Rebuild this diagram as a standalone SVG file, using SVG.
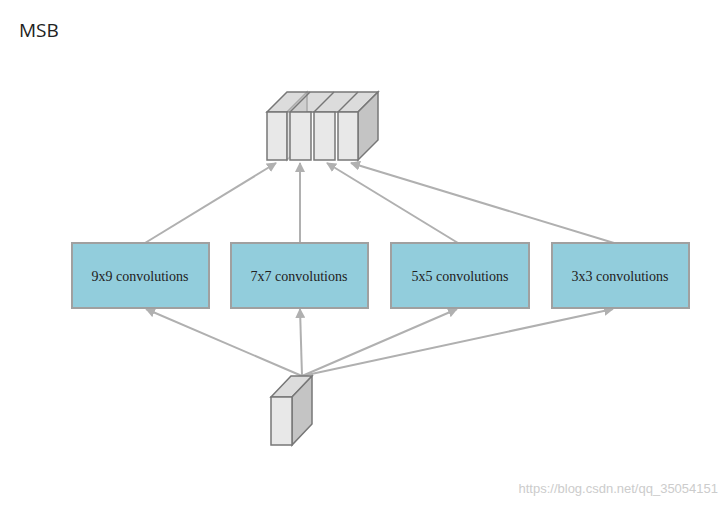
<svg xmlns="http://www.w3.org/2000/svg" width="725" height="506" viewBox="0 0 725 506">
<style>
.box{fill:#92cddc;stroke:#a0a0a0;stroke-width:2}
.lbl{font-family:"Liberation Serif",serif;font-size:14px;fill:#222;text-anchor:middle}
.f{fill:#e8e8e8;stroke:#777;stroke-width:1.5}
.t{fill:#dcdcdc;stroke:#777;stroke-width:1.5}
.s{fill:#c4c4c4;stroke:#777;stroke-width:1.5}
.c line{stroke:#b0b0b0;stroke-width:2;marker-end:url(#a)}
</style>
<defs><marker id="a" viewBox="0 0 10 10" refX="9" refY="5" markerWidth="5" markerHeight="5" orient="auto"><path d="M0,0L10,5L0,10z" fill="#b0b0b0"/></marker></defs>
<rect width="725" height="506" fill="#fff"/>
<text x="19" y="37" font-family="Open Sans,sans-serif" font-size="19" fill="#222">MSB</text>
<g class="c">
<line x1="145" y1="243" x2="276" y2="163"/>
<line x1="300" y1="243" x2="300" y2="163"/>
<line x1="458" y1="243" x2="327" y2="163"/>
<line x1="614" y1="243" x2="351" y2="163"/>
<line x1="302" y1="376" x2="146" y2="309"/>
<line x1="302" y1="376" x2="300" y2="309"/>
<line x1="302" y1="376" x2="457" y2="309"/>
<line x1="302" y1="376" x2="613" y2="309"/>
</g>
<g id="out">
<polygon class="t" points="267,112 287,92 378,92 358,112"/>
<polygon class="s" points="358,112 378,92 378,140 358,160"/>
<rect class="f" x="267" y="112" width="20" height="48"/>
<polygon class="s" points="287,112 307,92 307,140 287,160" opacity="0.5"/>
<rect class="f" x="290" y="112" width="21" height="48"/>
<rect class="f" x="314" y="112" width="21" height="48"/>
<rect class="f" x="338" y="112" width="20" height="48"/>
<line x1="290" y1="112" x2="310" y2="92" stroke="#777" stroke-width="1.5"/>
<line x1="314" y1="112" x2="334" y2="92" stroke="#777" stroke-width="1.5"/>
<line x1="338" y1="112" x2="358" y2="92" stroke="#777" stroke-width="1.5"/>
</g>
<g id="b9"><rect class="box" x="72" y="243" width="137" height="65"/><text class="lbl" x="140" y="281">9x9 convolutions</text></g>
<g id="b7"><rect class="box" x="231" y="243" width="137" height="65"/><text class="lbl" x="299" y="281">7x7 convolutions</text></g>
<g id="b5"><rect class="box" x="391" y="243" width="138" height="65"/><text class="lbl" x="460" y="281">5x5 convolutions</text></g>
<g id="b3"><rect class="box" x="552" y="243" width="137" height="65"/><text class="lbl" x="620" y="281">3x3 convolutions</text></g>
<g id="in">
<polygon class="t" points="271,397 291,376 312,376 292,397"/>
<polygon class="s" points="292,397 312,376 312,424 292,445"/>
<rect class="f" x="271" y="397" width="21" height="48"/>
</g>
<text x="718" y="493" font-family="Liberation Sans,sans-serif" font-size="13" fill="#ccc" text-anchor="end">https://blog.csdn.net/qq_35054151</text>
</svg>
